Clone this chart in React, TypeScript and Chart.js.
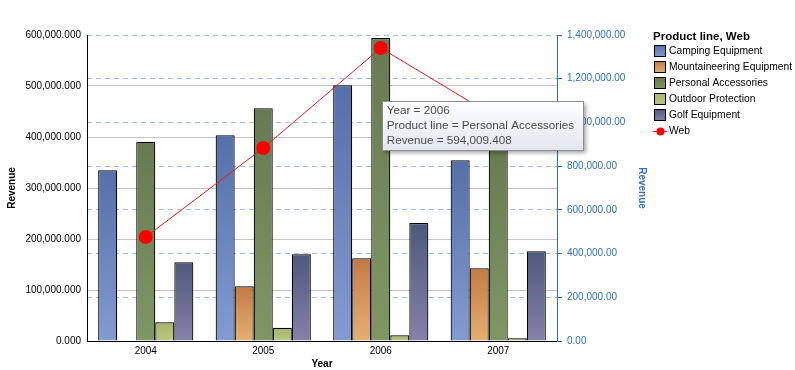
import React, { useEffect, useRef } from 'react';
import { Chart, registerables, Tooltip } from 'chart.js';

Chart.register(...registerables);

// ---------- data ----------
const years = ['2004', '2005', '2006', '2007'];
const productLines = [
  'Camping Equipment',
  'Mountaineering Equipment',
  'Personal Accessories',
  'Outdoor Protection',
  'Golf Equipment',
];
const webLabel = 'Web';
const legendTitle = 'Product line, Web';
const campingRevenue = [334700, 403300, 501400, 354300];
const mountaineeringRevenue: (number | null)[] = [null, 107200, 162100, 142500];
const personalRevenue = [390800, 456200, 594009.408, 395000];
const outdoorRevenue = [36600, 26100, 11100, 5300];
const golfRevenue = [154300, 170000, 231400, 175900];
const webRevenue = [475800, 883000, 1340500, 1017000];
const leftAxis = { min: 0, max: 600000, step: 100000 };
const rightAxis = { min: 0, max: 1400000, step: 200000 };
const highlighted = { datasetIndex: 2, index: 2 };

// ---------- styles ----------
const FONT = '"Liberation Sans", Arial, Helvetica, sans-serif';
const barColors: [string, string][] = [
  ['#5470a8', '#829bd2'],
  ['#c47a45', '#e4b072'],
  ['#677952', '#7f9763'],
  ['#a6b46c', '#b9c982'],
  ['#4e597b', '#8581aa'],
];
const axisBlue = '#2e6db4';

const fmt = (v: number, d: number) =>
  v.toLocaleString('en-US', { minimumFractionDigits: d, maximumFractionDigits: d });

(Tooltip.positioners as any).anchorBar = function (items: any[]) {
  if (!items.length) return false;
  const el = items[0].element;
  return { x: el.x + 3, y: el.y + 63 };
};

function barGradient(idx: number) {
  return (ctx: any) => {
    const chart = ctx.chart;
    const [top, bottom] = barColors[idx];
    if (!chart.chartArea || ctx.type !== 'data' || ctx.raw == null) return top;
    const ys = chart.scales.y;
    const y0 = ys.getPixelForValue(ctx.raw);
    const y1 = ys.getPixelForValue(0);
    if (!isFinite(y0) || Math.abs(y1 - y0) < 1) return bottom;
    const g = chart.ctx.createLinearGradient(0, y0, 0, y1);
    g.addColorStop(0, top);
    g.addColorStop(1, bottom);
    return g;
  };
}

const legendPlugin = {
  id: 'sideLegend',
  afterDraw(chart: any) {
    const ctx = chart.ctx;
    const x0 = chart.scales.y1.right + 5;
    ctx.save();
    ctx.textAlign = 'left';
    ctx.textBaseline = 'middle';
    ctx.fillStyle = '#000';
    ctx.font = `bold 11.5px ${FONT}`;
    ctx.fillText(legendTitle, x0, 37);
    ctx.font = `10.3px ${FONT}`;
    chart.data.datasets.forEach((ds: any, i: number) => {
      const cy = 51 + 16 * i;
      if (ds.type === 'line') {
        ctx.strokeStyle = ds.borderColor;
        ctx.lineWidth = 1;
        ctx.beginPath();
        ctx.moveTo(x0, cy + 0.5);
        ctx.lineTo(x0 + 14, cy + 0.5);
        ctx.stroke();
        ctx.fillStyle = ds.pointBackgroundColor;
        ctx.beginPath();
        ctx.arc(x0 + 7.5, cy + 0.5, 4, 0, Math.PI * 2);
        ctx.fill();
      } else {
        const [top, bottom] = barColors[i];
        const g = ctx.createLinearGradient(0, cy - 6, 0, cy + 6);
        g.addColorStop(0, top);
        g.addColorStop(1, bottom);
        ctx.fillStyle = g;
        ctx.fillRect(x0 + 1, cy - 6, 12, 12);
        ctx.strokeStyle = '#000';
        ctx.lineWidth = 1;
        ctx.strokeRect(x0 + 1.5, cy - 5.5, 11, 11);
      }
      ctx.fillStyle = '#000';
      ctx.fillText(ds.label, x0 + 16, cy);
    });
    ctx.restore();
  },
};

const tooltipBoxPlugin = {
  id: 'tooltipBox',
  beforeTooltipDraw(chart: any, args: any) {
    const t = args.tooltip;
    if (!t || !t.opacity) return;
    const ctx = chart.ctx;
    const x = Math.round(t.x) + 0.5;
    const y = Math.round(t.y) + 0.5;
    const w = Math.round(t.width);
    const h = Math.round(t.height);
    ctx.save();
    ctx.shadowColor = 'rgba(0,0,0,0.35)';
    ctx.shadowBlur = 4;
    ctx.shadowOffsetX = 2;
    ctx.shadowOffsetY = 2;
    const g = ctx.createLinearGradient(0, y, 0, y + h);
    g.addColorStop(0, '#ffffff');
    g.addColorStop(1, '#e3e5ee');
    ctx.fillStyle = g;
    ctx.fillRect(x, y, w, h);
    ctx.restore();
    ctx.save();
    ctx.strokeStyle = '#8c8c8c';
    ctx.lineWidth = 1;
    ctx.strokeRect(x, y, w, h);
    ctx.restore();
  },
};

export default function App() {
  const ref = useRef<HTMLCanvasElement>(null);
  useEffect(() => {
    const canvas = ref.current!;
    const barSeries = [campingRevenue, mountaineeringRevenue, personalRevenue, outdoorRevenue, golfRevenue];
    const datasets: any[] = barSeries.map((data, i) => ({
      type: 'bar',
      label: productLines[i],
      data,
      yAxisID: 'y',
      order: 1,
      backgroundColor: barGradient(i),
      borderColor: '#000',
      borderWidth: 1.2,
      barPercentage: 1,
      categoryPercentage: 0.81,
    }));
    datasets.push({
      type: 'line',
      label: webLabel,
      data: webRevenue,
      yAxisID: 'y1',
      order: 0,
      borderColor: '#e8181c',
      borderWidth: 1,
      pointRadius: 7,
      pointBackgroundColor: '#ff0000',
      pointBorderWidth: 0,
      tension: 0,
    });

    const chart = new Chart(canvas, {
      type: 'bar',
      data: { labels: years, datasets },
      plugins: [legendPlugin, tooltipBoxPlugin],
      options: {
        responsive: false,
        animation: false,
        events: [],
        layout: { padding: { left: 0, top: 35, right: 147, bottom: 0 } },
        font: { family: FONT },
        plugins: {
          legend: { display: false },
          tooltip: {
            enabled: true,
            position: 'anchorBar' as any,
            xAlign: 'left',
            yAlign: 'top',
            caretSize: 0,
            caretPadding: 0,
            cornerRadius: 2,
            backgroundColor: 'rgba(0,0,0,0)',
            borderWidth: 0,
            displayColors: false,
            bodyColor: '#4d4d4d',
            bodySpacing: 0,
            bodyFont: { family: FONT, size: 11.7, lineHeight: '15px' } as any,
            padding: { top: 2, bottom: 2, left: 5, right: 9 } as any,
            callbacks: {
              title: () => [] as any,
              label: (item: any) => [
                `Year = ${item.label}`,
                `Product line = ${item.dataset.label}`,
                `Revenue = ${fmt(item.raw, 3)}`,
              ],
            },
          },
        },
        scales: {
          x: {
            grid: { display: false, drawTicks: false },
            border: { display: true, color: '#000', width: 1 },
            ticks: { color: '#000', font: { family: FONT, size: 10 }, padding: 4, maxRotation: 0 },
            title: {
              display: true,
              text: 'Year',
              color: '#000',
              font: { family: FONT, size: 10, weight: 'bold' },
              padding: { top: 0, bottom: 0 },
            },
            afterFit: (s: any) => { s.height = 29; },
          },
          y: {
            position: 'left',
            min: leftAxis.min,
            max: leftAxis.max,
            grid: {
              color: (c: any) => (c.tick && c.tick.value >= leftAxis.max ? 'rgba(0,0,0,0)' : '#c6c6c6'),
              drawTicks: false,
            },
            border: { display: true, color: '#000', width: 1 },
            ticks: {
              stepSize: leftAxis.step,
              color: '#000',
              font: { family: FONT, size: 10 },
              padding: 6,
              callback: (v: any) => fmt(Number(v), 3),
            },
            title: {
              display: true,
              text: 'Revenue',
              color: '#000',
              font: { family: FONT, size: 10, weight: 'bold' },
              padding: { top: 6, bottom: 0 },
            },
            afterFit: (s: any) => { s.width = 87; },
          },
          y1: {
            position: 'right',
            min: rightAxis.min,
            max: rightAxis.max,
            grid: {
              color: '#9cc3e5',
              drawTicks: true,
              tickLength: 5,
              tickColor: axisBlue,
              tickBorderDash: [],
            } as any,
            border: { display: true, color: axisBlue, width: 1, dash: [5, 4] },
            ticks: {
              stepSize: rightAxis.step,
              color: '#2f72bd',
              font: { family: FONT, size: 10 },
              padding: 5,
              callback: (v: any) => fmt(Number(v), 2),
            },
            title: {
              display: true,
              text: 'Revenue',
              color: '#2f72bd',
              font: { family: FONT, size: 10, weight: 'bold' },
              padding: { top: 0, bottom: 0 },
            },
            afterFit: (s: any) => { s.width = 91; },
          },
        },
      } as any,
    });

    chart.tooltip!.setActiveElements([highlighted], { x: 0, y: 0 });
    chart.update();

    return () => chart.destroy();
  }, []);

  return (
    <div style={{ position: 'absolute', left: 0, top: 0, width: 795, height: 370, background: '#fff' }}>
      <canvas ref={ref} width={795} height={370} style={{ display: 'block', width: 795, height: 370 }} />
    </div>
  );
}
